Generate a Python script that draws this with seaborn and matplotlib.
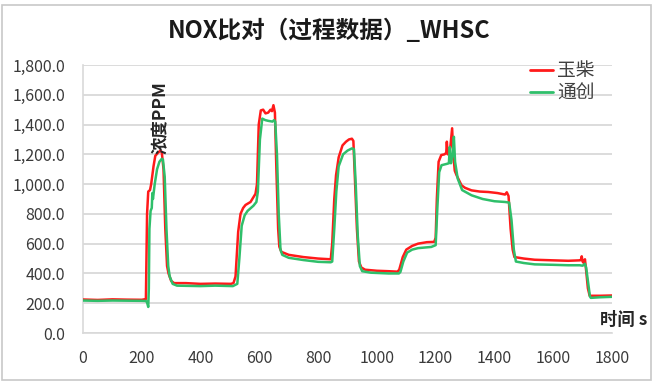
import matplotlib
matplotlib.use("Agg")
import matplotlib.pyplot as plt
import matplotlib.patches as mpatches
from matplotlib.ticker import FuncFormatter
import seaborn as sns
import pandas as pd

# ---------------- data ----------------
series_names = ["玉柴", "通创"]

yc_time = [0, 50, 100, 150, 200, 214, 218, 222, 228, 232, 240, 246, 255, 263, 268, 274, 280, 286,
           291, 300, 310, 350, 400, 450, 503, 512, 519, 528, 536, 545, 553, 570, 587, 592, 598,
           605, 613, 621, 630, 638, 643, 648, 653, 658, 664, 668, 675, 700, 750, 800, 843,
           848, 855, 861, 870, 883, 895, 905, 915, 920, 926, 932, 939, 947, 960, 1000, 1040,
           1070, 1076, 1088, 1100, 1120, 1140, 1170, 1195, 1200, 1204, 1210, 1219, 1230, 1236,
           1238, 1241, 1245, 1250, 1256, 1260, 1265, 1271, 1288, 1300, 1322, 1350, 1379, 1410,
           1436, 1442, 1448, 1455, 1462, 1468, 1500, 1537, 1600, 1651, 1690, 1694, 1697, 1700,
           1704, 1708, 1713, 1718, 1724, 1760, 1800]
yc_value = [225, 222, 226, 224, 223, 228, 800, 950, 960, 1000, 1120, 1190, 1210, 1225, 1215, 1100, 700, 450,
            400, 350, 335, 335, 330, 332, 330, 335, 380, 680, 800, 840, 860, 880, 935, 1000, 1400,
            1495, 1500, 1475, 1480, 1500, 1490, 1530, 1480, 1100, 700, 580, 545, 525, 510, 500, 495,
            600, 900, 1060, 1180, 1260, 1285, 1300, 1305, 1290, 1000, 700, 480, 440, 425, 418, 415,
            412, 425, 510, 560, 585, 600, 610, 612, 640, 900, 1150, 1195, 1200, 1210,
            1285, 1200, 1210, 1250, 1375, 1200, 1090, 1060, 992, 975, 958, 950, 947, 940,
            930, 945, 920, 700, 560, 510, 500, 492, 488, 485, 488, 490, 515, 480,
            470, 495, 400, 300, 250, 250, 252]

tc_time = [0, 50, 100, 150, 200, 214, 218, 222, 224, 226, 230, 234, 236, 238, 244, 252, 260, 268, 272,
           278, 284, 290, 295, 305, 320, 400, 450, 510, 525, 532, 540, 550, 560, 580, 590, 595, 602,
           610, 620, 630, 645, 650, 654, 660, 666, 672, 678, 700, 750, 800, 843,
           848, 855, 862, 870, 885, 900, 915, 922, 928, 935, 942, 950, 980, 1040, 1075, 1080,
           1090, 1103, 1120, 1140, 1185, 1200, 1206, 1212, 1220, 1236, 1245, 1248, 1252, 1258,
           1262, 1266, 1275, 1290, 1322, 1360, 1400, 1436, 1450, 1458, 1466, 1473, 1500, 1537,
           1600, 1651, 1690, 1700, 1708, 1712, 1718, 1725, 1728, 1760, 1800]
tc_value = [218, 216, 218, 217, 216, 215, 205, 175, 300, 700, 820, 840, 940, 900, 1000, 1100, 1150, 1170, 1165,
            1050, 700, 450, 380, 330, 318, 315, 318, 315, 330, 500, 720, 790, 820, 855, 880, 950, 1300,
            1440, 1430, 1425, 1420, 1430, 1420, 1200, 800, 560, 525, 505, 490, 478, 475,
            480, 700, 950, 1120, 1200, 1225, 1240, 1235, 1000, 650, 450, 415, 405, 400, 400, 410,
            480, 540, 560, 570, 578, 590, 850, 1080, 1127, 1135, 1140, 1250, 1140, 1200,
            1318, 1150, 1037, 960, 925, 900, 885, 880, 876, 760, 560, 480, 470, 461,
            458, 455, 455, 452, 465, 440, 350, 245, 236, 240, 243]

y_ticks = [0, 200, 400, 600, 800, 1000, 1200, 1400, 1600, 1800]
x_ticks = [0, 200, 400, 600, 800, 1000, 1200, 1400, 1600, 1800]

title_text = "NOX比对（过程数据）_WHSC"
y_note = "浓度PPM"
x_note = "时间 s"

df = pd.concat([
    pd.DataFrame({"t": yc_time, "v": yc_value, "s": series_names[0]}),
    pd.DataFrame({"t": tc_time, "v": tc_value, "s": series_names[1]}),
], ignore_index=True)

# ---------------- style ----------------
sns.set_theme(style="white")
plt.rcParams["font.family"] = ["Noto Sans CJK SC", "DejaVu Sans"]

W, H = 657, 382
fig = plt.figure(figsize=(W / 100, H / 100), dpi=100)
ax = fig.add_axes([83 / W, (H - 333) / H, (612 - 83) / W, (333 - 65) / H])

palette = {series_names[0]: "#ff1a1a", series_names[1]: "#2fbf6a"}
sns.lineplot(data=df, x="t", y="v", hue="s", palette=palette, estimator=None,
             sort=False, linewidth=1.8, ax=ax, legend=False, zorder=3)

ax.set_xlim(0, 1800)
ax.set_ylim(0, 1800)
ax.set_xticks(x_ticks)
ax.set_yticks(y_ticks)
ax.yaxis.set_major_formatter(FuncFormatter(lambda v, p: f"{v:,.1f}"))
ax.xaxis.set_major_formatter(FuncFormatter(lambda v, p: f"{int(v)}"))
ax.tick_params(axis="both", length=0, labelsize=11.5, labelcolor="#3a3a3a")
ax.tick_params(axis="y", pad=13)
ax.tick_params(axis="x", pad=12)
ax.set_xlabel("")
ax.set_ylabel("")
ax.grid(axis="y", color="#d9d9d9", linewidth=1.3)
ax.grid(axis="x", visible=False)
for side in ["top", "right"]:
    ax.spines[side].set_visible(False)
for side in ["left", "bottom"]:
    ax.spines[side].set_color("#d9d9d9")
    ax.spines[side].set_linewidth(1.2)

# legend
handles = [plt.Line2D([], [], color=palette[n], linewidth=2) for n in series_names]
leg = ax.legend(handles, series_names, loc="upper left", bbox_to_anchor=(0.83, 1.045),
                frameon=False, fontsize=13.5, handlelength=1.25, handletextpad=0.2,
                labelspacing=0.05, borderaxespad=0)
for txt in leg.get_texts():
    txt.set_color("#404040")

# title and notes
fig.text(329 / W, 1 - 31 / H, title_text, ha="center", va="center",
         fontsize=17, fontweight="bold", color="#1a1a1a")
ax.text(263, 1445, y_note, rotation=90, ha="center", va="center",
        fontsize=12.5, fontweight="bold", color="#262626", zorder=5)
ax.text(1840, 87, x_note, ha="center", va="center", fontsize=12.5,
        fontweight="bold", color="#262626", clip_on=False)

# outer chart border
fig.patches.append(mpatches.Rectangle((2 / W, 2 / H), 649 / W, 375 / H,
                                      transform=fig.transFigure, fill=False,
                                      edgecolor="#c8c8c8", linewidth=1.2))

fig.savefig("out.png", dpi=100)
